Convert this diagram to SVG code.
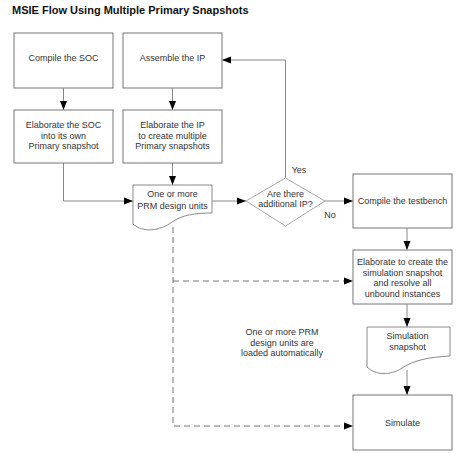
<svg xmlns="http://www.w3.org/2000/svg" width="474" height="454" viewBox="0 0 474 454">
<style>
.box{fill:#fff;stroke:#777;stroke-width:1}
.doc{fill:#fff;stroke:#8a8a8a;stroke-width:1}
.dia{fill:#fff;stroke:#aaa;stroke-width:1}
.ln{fill:none;stroke:#888;stroke-width:1}
.dash{fill:none;stroke:#777;stroke-width:1;stroke-dasharray:6,4}
text{font-family:"Liberation Sans",Arial,sans-serif;font-size:9px;fill:#333;text-anchor:middle}
.title{font-size:11px;font-weight:bold;fill:#111;text-anchor:start}
</style>
<defs>
<marker id="ah" markerUnits="userSpaceOnUse" markerWidth="9" markerHeight="8" refX="9" refY="4" orient="auto">
<path d="M0,0.5 L9,4 L0,7.5 Z" fill="#000"/>
</marker>
</defs>
<rect width="474" height="454" fill="#fff"/>
<text class="title" x="12" y="14">MSIE Flow Using Multiple Primary Snapshots</text>

<g id="connectors">
<line class="ln" x1="63.5" y1="88" x2="63.5" y2="110" marker-end="url(#ah)"/>
<line class="ln" x1="172.5" y1="88" x2="172.5" y2="110" marker-end="url(#ah)"/>
<polyline class="ln" points="63.5,163 63.5,201 133,201" marker-end="url(#ah)"/>
<line class="ln" x1="172.5" y1="163" x2="172.5" y2="185" marker-end="url(#ah)"/>
<line class="ln" x1="212" y1="201" x2="246" y2="201" marker-end="url(#ah)"/>
<polyline class="ln" points="285.5,178 285.5,60 222,60" marker-end="url(#ah)"/>
<line class="ln" x1="324" y1="201" x2="353" y2="201" marker-end="url(#ah)"/>
<line class="ln" x1="407" y1="228" x2="407" y2="250" marker-end="url(#ah)"/>
<line class="ln" x1="407" y1="304" x2="407" y2="327" marker-end="url(#ah)"/>
<line class="ln" x1="407" y1="370" x2="407" y2="395" marker-end="url(#ah)"/>
<polyline class="dash" points="173,227 173,426 353,426" marker-end="url(#ah)"/>
<line class="dash" x1="173" y1="281" x2="353" y2="281" marker-end="url(#ah)"/>
<text x="299" y="173">Yes</text>
<text x="330" y="218">No</text>
</g>

<g id="compile-soc">
<rect class="box" x="14" y="33" width="99" height="55"/>
<text x="63.5" y="61">Compile the SOC</text>
</g>
<g id="assemble-ip">
<rect class="box" x="123" y="33" width="99" height="55"/>
<text x="172.5" y="61">Assemble the IP</text>
</g>
<g id="elab-soc">
<rect class="box" x="14" y="110" width="99" height="53"/>
<text x="63.5" y="128">Elaborate the SOC</text>
<text x="63.5" y="138.5">into its own</text>
<text x="63.5" y="149">Primary snapshot</text>
</g>
<g id="elab-ip">
<rect class="box" x="123" y="110" width="99" height="53"/>
<text x="172.5" y="128">Elaborate the IP</text>
<text x="172.5" y="138.5">to create multiple</text>
<text x="172.5" y="149">Primary snapshots</text>
</g>
<g id="prm-units">
<path class="doc" d="M133,185 H212 V213 C195,213 182,215 172,222 C160,231 143,233 133,224 Z"/>
<text x="172.5" y="197">One or more</text>
<text x="172.5" y="208.5">PRM design units</text>
</g>
<g id="decision">
<polygon class="dia" points="246,201 285.5,178 325,201 285.5,226"/>
<text x="285.5" y="197">Are there</text>
<text x="285.5" y="207">additional IP?</text>
</g>
<g id="compile-tb">
<rect class="box" x="353" y="174" width="99" height="54"/>
<text x="402.5" y="204">Compile the testbench</text>
</g>
<g id="elab-sim">
<rect class="box" x="353" y="250" width="99" height="54"/>
<text x="402.5" y="265">Elaborate to create the</text>
<text x="402.5" y="275.5">simulation snapshot</text>
<text x="402.5" y="286">and resolve all</text>
<text x="402.5" y="297">unbound instances</text>
</g>
<g id="sim-snapshot">
<path class="doc" d="M367,327 H450 V356 C430,357 414,360 402,368 C390,376 375,375 367,367 Z"/>
<text x="407.5" y="339">Simulation</text>
<text x="407.5" y="350">snapshot</text>
</g>
<g id="simulate">
<rect class="box" x="353" y="395" width="99" height="55"/>
<text x="402.5" y="426">Simulate</text>
</g>
<g id="note">
<text x="282" y="335">One or more PRM</text>
<text x="282" y="346">design units are</text>
<text x="282" y="356">loaded automatically</text>
</g>
</svg>
